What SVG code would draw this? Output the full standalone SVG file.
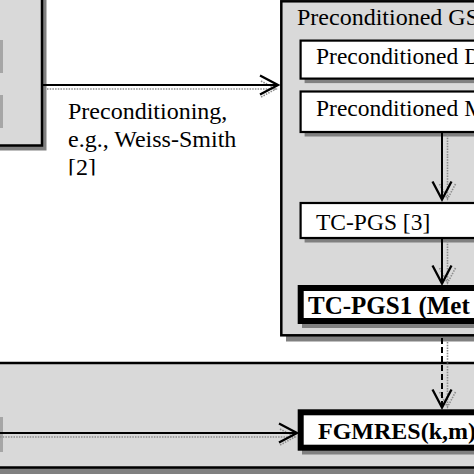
<svg xmlns="http://www.w3.org/2000/svg" width="474" height="474" viewBox="0 0 474 474">
  <defs>
    <style>
      .bg { fill: #ffffff; }
      .shadow { fill: #808080; stroke: none; }
      .cont { fill: #d9d9d9; stroke: #000; stroke-width: 2.5; }
      .box { fill: #ffffff; stroke: #000; stroke-width: 2.2; }
      .bbox { fill: #ffffff; stroke: #000; stroke-width: 6; }
      .bar { fill: #a6a6a6; stroke: none; }
      .t { font-family: "Liberation Serif", "Times New Roman", serif; font-size: 23.5px; fill: #000; }
      .tl { font-family: "Liberation Serif", "Times New Roman", serif; font-size: 24px; fill: #000; }
      .tb { font-family: "Liberation Serif", "Times New Roman", serif; font-size: 24px; font-weight: bold; fill: #000; }
      .conn { fill: none; stroke: #000; stroke-width: 2; }
      .dash { stroke-dasharray: 6 3; }
      .cshadow { fill: none; stroke: #8c8c8c; stroke-width: 1.6; stroke-dasharray: 1.5 1.2; }
    </style>
    <marker id="arr" markerUnits="userSpaceOnUse" markerWidth="24" markerHeight="24" refX="0" refY="0" viewBox="-20 -12 22 24" orient="auto" overflow="visible">
      <path d="M -18 -9.5 L 0 0 L -18 9.5" fill="none" stroke="#000" stroke-width="2.3"/>
    </marker>
    <marker id="arrs" markerUnits="userSpaceOnUse" markerWidth="24" markerHeight="24" refX="0" refY="0" viewBox="-20 -12 22 24" orient="auto" overflow="visible">
      <path d="M -15 -8 L 0 0 L -15 8" fill="none" stroke="#8c8c8c" stroke-width="1.6" stroke-dasharray="1.5 1.2"/>
    </marker>
    <clipPath id="lblclip">
      <rect x="60" y="95" width="200" height="80.5"/>
    </clipPath>
  </defs>

  <rect class="bg" x="0" y="0" width="474" height="474"/>

  <g id="left-box">
    <rect class="shadow" x="-6" y="-6" width="52.5" height="156.5"/>
    <rect class="cont" x="-10" y="-10" width="52" height="155.5"/>
    <rect class="bar" x="0" y="40" width="3" height="33"/>
    <rect class="bar" x="0" y="95" width="3" height="33"/>
  </g>

  <g id="precond-gs-container">
    <rect class="shadow" x="286" y="6" width="200" height="335.5"/>
    <rect class="cont" x="281.3" y="1.3" width="200" height="334"/>
    <text class="tl" x="297" y="25">Preconditioned GS</text>
  </g>

  <g id="box-precond-d">
    <rect class="shadow" x="304.6" y="44.6" width="200" height="38.5"/>
    <rect class="box" x="300.6" y="40.6" width="200" height="38"/>
    <text class="t" x="316" y="64">Preconditioned D</text>
  </g>

  <g id="box-precond-m">
    <rect class="shadow" x="304.6" y="95.5" width="200" height="41"/>
    <rect class="box" x="300.6" y="91.5" width="200" height="40.5"/>
    <text class="t" x="316" y="116">Preconditioned M</text>
  </g>

  <g id="box-tcpgs">
    <rect class="shadow" x="304.6" y="207" width="200" height="35.5"/>
    <rect class="box" x="300.6" y="203" width="200" height="35"/>
    <text class="t" x="316" y="230">TC-PGS [3]</text>
  </g>

  <g id="box-tcpgs1">
    <rect class="shadow" x="302" y="289" width="200" height="39"/>
    <rect class="bbox" x="300.7" y="288" width="200" height="33"/>
    <text class="tb" x="308" y="314" style="font-size:25px">TC-PGS1 (Met</text>
  </g>

  <g id="fgmres-container">
    <rect class="shadow" x="-5" y="368" width="500" height="110"/>
    <rect class="cont" x="-10" y="363" width="500" height="104.5"/>
    <rect class="bar" x="0" y="417" width="3" height="35"/>
  </g>

  <g id="box-fgmres">
    <rect class="shadow" x="302" y="413" width="200" height="41.5"/>
    <rect class="bbox" x="300.7" y="412.3" width="200" height="35.4"/>
    <text class="tb" x="318" y="439">FGMRES(k,m)</text>
  </g>

  <g id="connectors">
    <path class="cshadow" d="M 47 89 L 276 89" marker-end="url(#arrs)"/>
    <path class="conn" d="M 43 85 L 278 85" marker-end="url(#arr)"/>

    <path class="cshadow" d="M 447.5 135 L 447.5 199" marker-end="url(#arrs)"/>
    <path class="conn" d="M 442 133 L 442 199.5" marker-end="url(#arr)"/>

    <path class="cshadow" d="M 447.5 241 L 447.5 283" marker-end="url(#arrs)"/>
    <path class="conn" d="M 442 239 L 442 283.5" marker-end="url(#arr)"/>

    <path class="cshadow" d="M 447.5 342 L 447.5 407" marker-end="url(#arrs)"/>
    <path class="conn dash" d="M 442 338 L 442 407.5" marker-end="url(#arr)"/>

    <path class="cshadow" d="M 0 437 L 295 437" marker-end="url(#arrs)"/>
    <path class="conn" d="M 0 433 L 297 433" marker-end="url(#arr)"/>
  </g>

  <g id="label-preconditioning" clip-path="url(#lblclip)">
    <text class="tl" x="68" y="119">Preconditioning,</text>
    <text class="tl" x="68" y="147">e.g., Weiss-Smith</text>
    <text class="tl" x="68" y="175">[2]</text>
  </g>
</svg>
